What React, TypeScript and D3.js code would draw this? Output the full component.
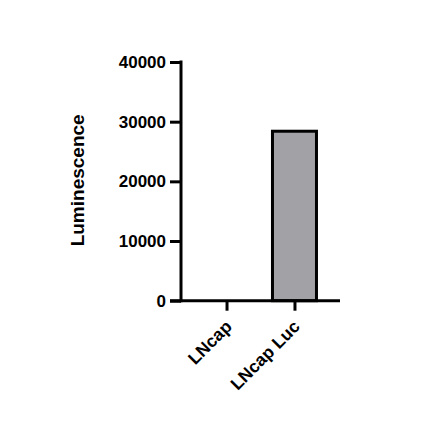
import * as d3 from 'd3';
import React, { useEffect, useRef } from 'react';

const categories = ['LNcap', 'LNcap Luc'];
const luminescence = [0, 28400];
const yTicks = [0, 10000, 20000, 30000, 40000];

const W = 440;
const H = 440;
const FONT = '"Liberation Sans", Arial, sans-serif';

export default function App() {
  const svgRef = useRef<SVGSVGElement>(null);

  useEffect(() => {
    const svg = d3.select(svgRef.current).html('');
    const axisX = 181;
    const baseY = 300.7;
    const right = 340;

    const y = d3.scaleLinear().domain([0, 40000]).range([baseY, 62]);
    const x = d3.scalePoint<string>()
      .domain(categories)
      .range([axisX, right])
      .padding(0.67);

    // bars
    svg.selectAll('.bar')
      .data(categories)
      .enter().append('rect')
        .attr('class', 'bar')
        .attr('x', d => x(d)! - 22)
        .attr('y', (d, i) => y(luminescence[i]))
        .attr('width', 44)
        .attr('height', (d, i) => baseY - y(luminescence[i]))
        .attr('fill', '#a1a1a6')
        .attr('stroke', '#000')
        .attr('stroke-width', 3);

    // y axis
    const gy = svg.append('g')
      .attr('transform', `translate(${axisX},0)`)
      .call(d3.axisLeft(y).tickValues(yTicks).tickSize(11).tickPadding(4).tickSizeOuter(0)
        .tickFormat(d => String(d)));
    gy.select('.domain').remove();
    gy.selectAll('line').attr('stroke', '#000').attr('stroke-width', 3);
    gy.selectAll('text')
      .style('font-family', FONT)
      .style('font-weight', 'bold')
      .style('font-size', '17px')
      .attr('fill', '#000');
    svg.append('line')
      .attr('x1', axisX).attr('x2', axisX)
      .attr('y1', y(40000) - 1.5).attr('y2', baseY + 1.5)
      .attr('stroke', '#000').attr('stroke-width', 3);

    // x axis
    const gx = svg.append('g')
      .attr('transform', `translate(0,${baseY})`)
      .call(d3.axisBottom(x).tickSize(10).tickSizeOuter(0));
    gx.select('.domain').remove();
    gx.selectAll('line').attr('stroke', '#000').attr('stroke-width', 3);
    gx.selectAll('text')
      .style('font-family', FONT)
      .style('font-weight', 'bold')
      .style('font-size', '17.5px')
      .style('text-anchor', 'end')
      .attr('fill', '#000')
      .attr('dy', '0')
      .attr('transform', 'translate(6,27) rotate(-45)')
      .attr('y', 0)
      .attr('x', 0);
    svg.append('line')
      .attr('x1', 170).attr('x2', right)
      .attr('y1', baseY).attr('y2', baseY)
      .attr('stroke', '#000').attr('stroke-width', 3);

    // y label
    svg.append('text')
      .attr('transform', `translate(83.5,${(y(40000) + baseY) / 2 - 1}) rotate(-90)`)
      .attr('text-anchor', 'middle')
      .style('font-family', FONT)
      .style('font-weight', 'bold')
      .style('font-size', '19px')
      .text('Luminescence');
  }, []);

  return (
    <svg ref={svgRef} width={W} height={H}
      style={{ position: 'absolute', left: 0, top: 0, background: '#fff' }} />
  );
}
